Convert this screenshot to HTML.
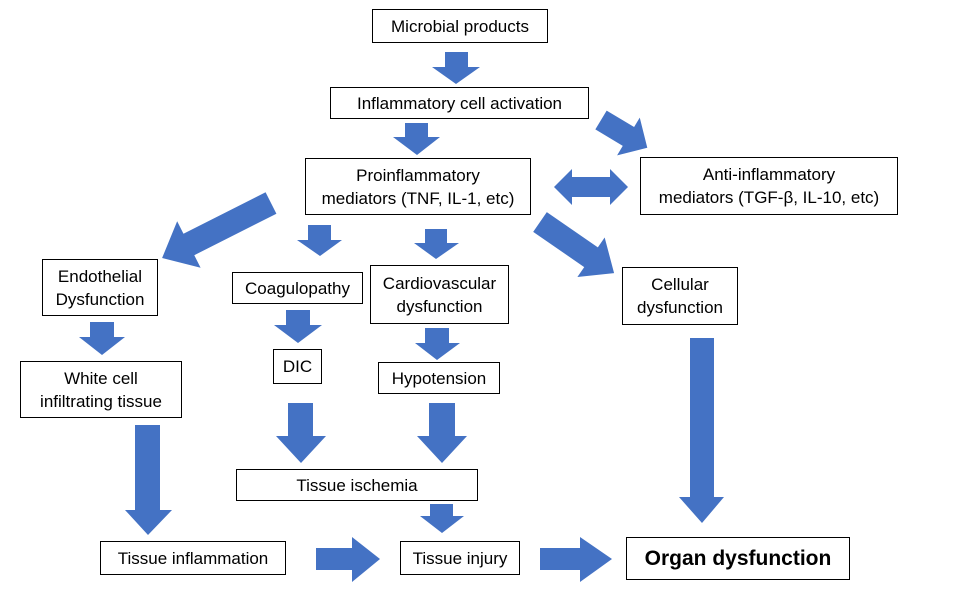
<!DOCTYPE html>
<html><head><meta charset="utf-8"><style>
body{margin:0;width:960px;height:595px;background:#fff;position:relative;overflow:hidden;font-family:"Liberation Sans",sans-serif;}
.b{position:absolute;border:1.3px solid #000;box-sizing:border-box;display:flex;align-items:center;justify-content:center;text-align:center;font-size:17px;line-height:23px;color:#000;background:#fff;white-space:nowrap;}
svg{position:absolute;left:0;top:0;}
</style></head><body>
<svg width="960" height="595" fill="#4472C4">
<polygon points="445,52 468,52 468,67 480,67 456,84 432,67 445,67"/>
<polygon points="405,123 428,123 428,137 440,137 417,155 393,137 405,137"/>
<polygon points="308,225 331,225 331,240 342,240 320,256 297,240 308,240"/>
<polygon points="425,229 447,229 447,243 459,243 436,259 414,243 425,243"/>
<polygon points="90,322 114,322 114,337 125,337 102,355 79,337 90,337"/>
<polygon points="286,310 310,310 310,325 322,325 298,343 274,325 286,325"/>
<polygon points="425,328 449,328 449,343 460,343 437,360 415,343 425,343"/>
<polygon points="288,403 313,403 313,436 326,436 301,463 276,436 288,436"/>
<polygon points="429,403 455,403 455,436 467,436 442,463 417,436 429,436"/>
<polygon points="135,425 160,425 160,510 172,510 148,535 125,510 135,510"/>
<polygon points="690,338 714,338 714,497 724,497 702,523 679,497 690,497"/>
<polygon points="430,504 453,504 453,516 464,516 442,533 420,516 430,516"/>
<polygon points="316,548 352,548 352,537 380,559 352,582 352,570 316,570"/>
<polygon points="540,548 580,548 580,537 612,559 580,582 580,570 540,570"/>
<polygon points="554,187 572,169 572,177 610,177 610,169 628,187 610,205 610,197 572,197 572,205"/>
<polygon transform="translate(271,203) rotate(153.2)" points="0,-12 92,-12 92,-26 122,0 92,26 92,12 0,12"/>
<polygon transform="translate(540,222) rotate(34.6)" points="0,-12 62,-12 62,-24 90,0 62,24 62,12 0,12"/>
<polygon transform="translate(601,120) rotate(31)" points="0,-11 32,-11 32,-22 54,0 32,22 32,11 0,11"/>
</svg>
<div class="b" style="left:372px;top:9px;width:176px;height:34px">Microbial products</div>
<div class="b" style="left:330px;top:87px;width:259px;height:32px">Inflammatory cell activation</div>
<div class="b" style="left:305px;top:158px;width:226px;height:57px">Proinflammatory<br>mediators (TNF, IL-1, etc)</div>
<div class="b" style="left:640px;top:157px;width:258px;height:58px">Anti-inflammatory<br>mediators (TGF-β, IL-10, etc)</div>
<div class="b" style="left:42px;top:259px;width:116px;height:57px">Endothelial<br>Dysfunction</div>
<div class="b" style="left:232px;top:272px;width:131px;height:32px">Coagulopathy</div>
<div class="b" style="left:370px;top:265px;width:139px;height:59px">Cardiovascular<br>dysfunction</div>
<div class="b" style="left:622px;top:267px;width:116px;height:58px">Cellular<br>dysfunction</div>
<div class="b" style="left:273px;top:349px;width:49px;height:35px">DIC</div>
<div class="b" style="left:20px;top:361px;width:162px;height:57px">White cell<br>infiltrating tissue</div>
<div class="b" style="left:378px;top:362px;width:122px;height:32px">Hypotension</div>
<div class="b" style="left:236px;top:469px;width:242px;height:32px">Tissue ischemia</div>
<div class="b" style="left:100px;top:541px;width:186px;height:34px">Tissue inflammation</div>
<div class="b" style="left:400px;top:541px;width:120px;height:34px">Tissue injury</div>
<div class="b" style="left:626px;top:537px;width:224px;height:43px;font-size:21px;font-weight:bold">Organ dysfunction</div>
</body></html>
